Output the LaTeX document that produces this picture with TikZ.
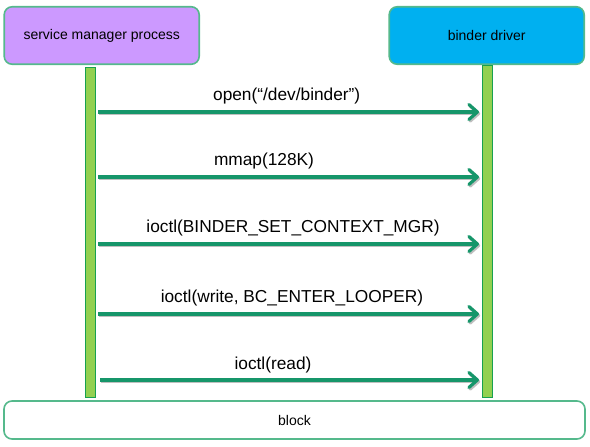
\documentclass[tikz,border=0pt]{standalone}
\usepackage{fontspec}
\setmainfont{Liberation Sans}
\usetikzlibrary{arrows.meta}
\definecolor{edgegreen}{HTML}{55B98C}
\definecolor{lavender}{HTML}{CC99FF}
\definecolor{skyblue}{HTML}{00B0F0}
\definecolor{barfill}{HTML}{92D050}
\definecolor{bardraw}{HTML}{17A050}
\definecolor{msggreen}{HTML}{16966A}
\tikzset{
  actor/.style={draw=edgegreen, line width=1.6pt, rounded corners=8pt, inner sep=0pt,
     font=\fontsize{14}{16}\selectfont},
  lifebar/.style={draw=bardraw, fill=barfill, line width=1pt},
  msg/.style={draw=msggreen, line width=3.2pt,
     -{Straight Barb[length=8.5pt,width=15pt,line width=3.2pt,round]},
     preaction={draw=black!25, line width=3.2pt, transform canvas={shift={(1.2pt,-1.6pt)}},
       -{Straight Barb[length=8.5pt,width=15pt,line width=3.2pt,round]}}},
  lbl/.style={anchor=base, inner sep=0pt, font=\fontsize{17.3}{19}\selectfont}
}
\begin{document}
\begin{tikzpicture}[x=1pt,y=-1pt]
\useasboundingbox (0,0) rectangle (590,447);
% actors
\node[actor, fill=lavender, minimum width=195pt, minimum height=57.5pt] (sm) at (101.7,35.5) {service manager process};
\node[actor, fill=skyblue, minimum width=195pt, minimum height=57.5pt] (bd) at (486.7,35.5) {binder driver};
% lifelines
\node[lifebar, minimum width=10pt, minimum height=330pt, inner sep=0pt] (lbar) at (90,232) {};
\node[lifebar, minimum width=10pt, minimum height=332pt, inner sep=0pt] (rbar) at (487,231) {};
% block
\node[actor, fill=white, minimum width=581pt, minimum height=38pt] (block) at (294.5,420) {block};
% message end points
\coordinate (s1) at (98,112);  \coordinate (e1) at (479,112);
\coordinate (s2) at (98,177);  \coordinate (e2) at (479,177);
\coordinate (s3) at (98,244);  \coordinate (e3) at (479,244);
\coordinate (s4) at (98,314);  \coordinate (e4) at (479,314);
\coordinate (s5) at (100,380); \coordinate (e5) at (479,380);
% messages
\draw[msg] (s1) -- (e1);
\draw[msg] (s2) -- (e2);
\draw[msg] (s3) -- (e3);
\draw[msg] (s4) -- (e4);
\draw[msg] (s5) -- (e5);
% labels
\node[lbl] (l1) at (286.7,100) {open(“/dev/binder”)};
\node[lbl] (l2) at (264,165.5) {mmap(128K)};
\node[lbl] (l3) at (293,232.5) {ioctl(BINDER\_SET\_CONTEXT\_MGR)};
\node[lbl] (l4) at (292,302.5) {ioctl(write, BC\_ENTER\_LOOPER)};
\node[lbl] (l5) at (273,369) {ioctl(read)};
\end{tikzpicture}
\end{document}
